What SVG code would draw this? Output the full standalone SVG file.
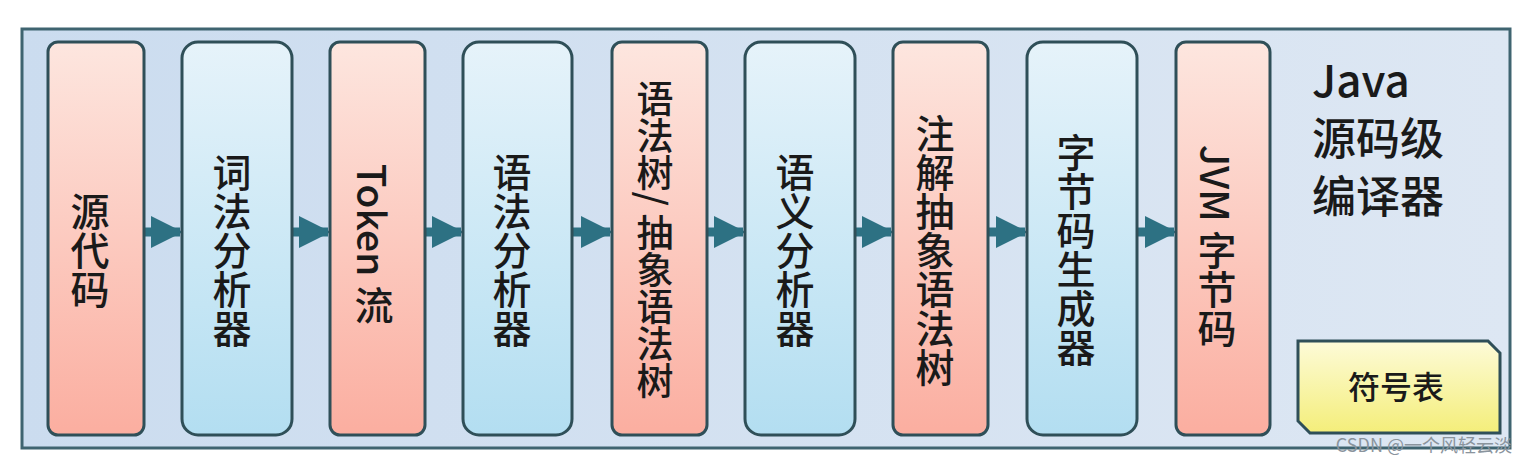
<svg xmlns="http://www.w3.org/2000/svg" width="1528" height="465" viewBox="0 0 1528 465">
<defs>
<linearGradient id="pink" x1="0" y1="0" x2="0" y2="1"><stop offset="0" stop-color="#fde6df"/><stop offset="1" stop-color="#fbaea0"/></linearGradient>
<linearGradient id="blue" x1="0" y1="0" x2="0" y2="1"><stop offset="0" stop-color="#e6f3fa"/><stop offset="1" stop-color="#b3def1"/></linearGradient>
<linearGradient id="yel" x1="0" y1="0" x2="0" y2="1"><stop offset="0" stop-color="#fdfbd8"/><stop offset="1" stop-color="#f4ee7a"/></linearGradient>
<linearGradient id="bg" x1="0" y1="0" x2="1" y2="0"><stop offset="0" stop-color="#cbdcef"/><stop offset="1" stop-color="#dde7f3"/></linearGradient>
<marker id="ah" viewBox="0 0 10 10" refX="9" refY="5" markerWidth="3.6" markerHeight="4" orient="auto" markerUnits="strokeWidth"><path d="M0,0 L10,5 L0,10 Z" fill="#2d7183"/></marker>
<style>
.n{stroke:#2f4f58;stroke-width:3}
.t{font-family:"Noto Sans CJK SC","Liberation Sans",sans-serif;font-size:39px;font-weight:500;fill:#1a1a1a;writing-mode:vertical-rl;text-orientation:mixed;text-anchor:middle}
.h{font-family:"Noto Sans CJK SC","Liberation Sans",sans-serif;font-size:44px;font-weight:500;fill:#1a1a1a}
.c{stroke:#2d7183;stroke-width:9;fill:none}
</style>
</defs>
<rect width="1528" height="465" fill="#ffffff"/>
<rect x="22" y="29" width="1488" height="419" fill="url(#bg)" stroke="#3f6470" stroke-width="3"/>
<g id="connectors">
<line class="c" x1="145" y1="232" x2="180" y2="232" marker-end="url(#ah)"/>
<line class="c" x1="293" y1="232" x2="328" y2="232" marker-end="url(#ah)"/>
<line class="c" x1="426" y1="232" x2="461" y2="232" marker-end="url(#ah)"/>
<line class="c" x1="573" y1="232" x2="610" y2="232" marker-end="url(#ah)"/>
<line class="c" x1="708" y1="232" x2="743" y2="232" marker-end="url(#ah)"/>
<line class="c" x1="856" y1="232" x2="891" y2="232" marker-end="url(#ah)"/>
<line class="c" x1="989" y1="232" x2="1025" y2="232" marker-end="url(#ah)"/>
<line class="c" x1="1138" y1="232" x2="1174" y2="232" marker-end="url(#ah)"/>
</g>
<g id="n1"><rect class="n" x="48" y="42" width="96" height="393" rx="10" fill="url(#pink)"/><text class="t" x="90" y="250">源代码</text></g>
<g id="n2"><rect class="n" x="182" y="42" width="110" height="393" rx="16" fill="url(#blue)"/><text class="t" x="232" y="250">词法分析器</text></g>
<g id="n3"><rect class="n" x="330" y="42" width="95" height="393" rx="10" fill="url(#pink)"/><text class="t" x="374" y="244">Token 流</text></g>
<g id="n4"><rect class="n" x="463" y="42" width="109" height="393" rx="16" fill="url(#blue)"/><text class="t" x="512" y="250">语法分析器</text></g>
<g id="n5"><rect class="n" x="612" y="42" width="95" height="393" rx="10" fill="url(#pink)"/><text class="t" x="655" y="240" style="font-size:37px">语法树/ 抽象语法树</text></g>
<g id="n6"><rect class="n" x="745" y="42" width="110" height="393" rx="16" fill="url(#blue)"/><text class="t" x="795" y="250">语义分析器</text></g>
<g id="n7"><rect class="n" x="893" y="42" width="95" height="393" rx="10" fill="url(#pink)"/><text class="t" x="935" y="250">注解抽象语法树</text></g>
<g id="n8"><rect class="n" x="1027" y="42" width="110" height="393" rx="16" fill="url(#blue)"/><text class="t" x="1076" y="250">字节码生成器</text></g>
<g id="n9"><rect class="n" x="1176" y="42" width="94" height="393" rx="10" fill="url(#pink)"/><text class="t" x="1217" y="246">JVM 字节码</text></g>
<g id="title"><text class="h" x="1312" y="97">Java</text><text class="h" x="1312" y="155">源码级</text><text class="h" x="1312" y="213">编译器</text></g>
<g id="symtab"><path class="n" d="M1298,341 H1488 L1500,353 V433 H1310 L1298,421 Z" fill="url(#yel)"/><text x="1396" y="399" text-anchor="middle" style="font-family:'Noto Sans CJK SC',sans-serif;font-size:32px;font-weight:500;fill:#1a1a1a">符号表</text></g>
<text x="1512" y="452" text-anchor="end" style="font-family:'Noto Sans CJK SC',sans-serif;font-size:18px;fill:#8a949d">CSDN @一个风轻云淡</text>
</svg>
